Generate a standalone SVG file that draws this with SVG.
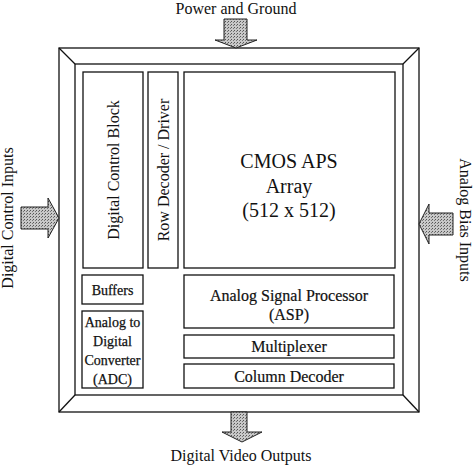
<svg xmlns="http://www.w3.org/2000/svg" width="474" height="465" viewBox="0 0 474 465">
<defs>
<pattern id="dots" width="3" height="3" patternUnits="userSpaceOnUse">
<rect width="3" height="3" fill="#c8c8c8"/>
<rect width="1" height="1" fill="#555"/>
<rect x="2" y="1" width="1" height="1" fill="#777"/>
</pattern>
</defs>
<style>
.ln{fill:none;stroke:#111;stroke-width:1.3}
.box{fill:#fff;stroke:#111;stroke-width:1.3}
.arr{fill:url(#dots);stroke:#222;stroke-width:1}
text{font-family:"Liberation Serif","Times New Roman",serif;fill:#111;text-anchor:middle}
.lbl{font-size:16px}
.sm{font-size:14px;stroke:#111;stroke-width:0.25}
.md{font-size:16px;stroke:#111;stroke-width:0.2}
.big{font-size:20px}
</style>
<rect width="474" height="465" fill="#fff"/>
<g id="chip-frame">
<rect class="ln" x="59" y="48" width="360" height="364"/>
<rect class="ln" x="75" y="64" width="328" height="331"/>
<line class="ln" x1="59" y1="48" x2="75" y2="64"/>
<line class="ln" x1="419" y1="48" x2="403" y2="64"/>
<line class="ln" x1="59" y1="412" x2="75" y2="395"/>
<line class="ln" x1="419" y1="412" x2="403" y2="395"/>
</g>
<g id="digital-control-block">
<rect class="box" x="83" y="72" width="60" height="196"/>
<text class="lbl" transform="translate(119,170) rotate(-90)">Digital Control Block</text>
</g>
<g id="row-decoder">
<rect class="box" x="148" y="72" width="30" height="196"/>
<text class="lbl" transform="translate(169,170) rotate(-90)">Row Decoder / Driver</text>
</g>
<g id="cmos-aps">
<rect class="box" x="184" y="72" width="211" height="196"/>
<text class="big" x="289" y="168">CMOS APS</text>
<text class="big" x="289" y="193">Array</text>
<text class="big" x="289" y="217">(512 x 512)</text>
</g>
<g id="buffers">
<rect class="box" x="82" y="275" width="61" height="29"/>
<text class="sm" x="112.5" y="295">Buffers</text>
</g>
<g id="adc">
<rect class="box" x="82" y="311" width="61" height="77"/>
<text class="sm" x="112.5" y="327">Analog to</text>
<text class="sm" x="112.5" y="346">Digital</text>
<text class="sm" x="112.5" y="365">Converter</text>
<text class="sm" x="112.5" y="384">(ADC)</text>
</g>
<g id="asp">
<rect class="box" x="184" y="275" width="210" height="53"/>
<text class="md" x="289" y="301">Analog Signal Processor</text>
<text class="md" x="289" y="320">(ASP)</text>
</g>
<g id="multiplexer">
<rect class="box" x="184" y="335" width="210" height="23"/>
<text class="md" x="289" y="352">Multiplexer</text>
</g>
<g id="column-decoder">
<rect class="box" x="184" y="364" width="210" height="24"/>
<text class="md" x="289" y="382">Column Decoder</text>
</g>
<g id="connectors">
<path class="arr" d="M224,19 H247 V40 H257 L236,48 L215,40 H224 Z"/>
<path class="arr" d="M21,207 H48 V198 L59,218 L48,238 V229 H21 Z"/>
<path class="arr" d="M453,213 H429 V204 L419,224 L429,244 V235 H453 Z"/>
<path class="arr" d="M231,412 H247 V432 H262 L242,442 L222,432 H231 Z"/>
</g>
<g id="labels">
<text class="lbl" x="236" y="14">Power and Ground</text>
<text class="lbl" transform="translate(13,218) rotate(-90)">Digital Control Inputs</text>
<text class="lbl" transform="translate(460,220) rotate(90)">Analog Bias Inputs</text>
<text class="lbl" x="241" y="461">Digital Video Outputs</text>
</g>
</svg>
